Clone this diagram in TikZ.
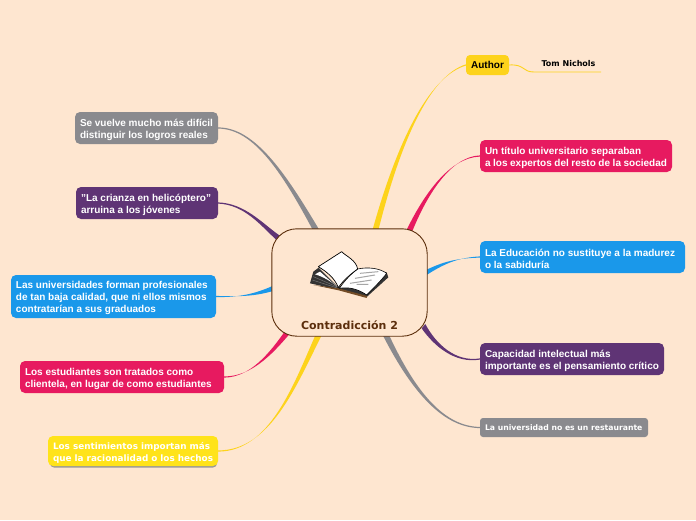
\documentclass[tikz,border=0pt]{standalone}
\usepackage{fontspec}
\usetikzlibrary{calc}
\setmainfont{Liberation Sans}
\newfontfamily\djv{DejaVu Sans}
\definecolor{bgc}{HTML}{FEE6D0}
\definecolor{pinkc}{HTML}{E71A60}
\definecolor{bluec}{HTML}{1A98EA}
\definecolor{purpc}{HTML}{5F3475}
\definecolor{grayc}{HTML}{8A8A8E}
\definecolor{yelc}{HTML}{FFE31A}
\definecolor{authc}{HTML}{FDD31C}
\definecolor{brownc}{HTML}{5C2E0C}
\newcommand{\nohy}{\hyphenpenalty=10000\relax}
\tikzset{
  basetopic/.style={rounded corners=5pt,inner sep=0pt,text=white,font=\nohy\fontsize{10}{12}\selectfont\bfseries,align=flush left,anchor=center},
  topic/.style={basetopic,execute at begin node={\rule{0pt}{10.5pt}}},
  smalltopic/.style={basetopic,font=\nohy\djv\fontsize{7.7}{12}\selectfont\bfseries},
  yeltopic/.style={basetopic,font=\nohy\djv\fontsize{8.85}{12}\selectfont\bfseries,execute at begin node={\rule{0pt}{10.5pt}}},
}
% \branch{colour}{thin end}{ctrl1}{ctrl2}{thick end}{half width x}{half width y}
\newcommand{\branch}[7]{%
  \fill[#1] ($(#2)+(0,-.6)$) .. controls ($(#3)+.1*(#6,#7)+(0,-.5)$) and ($(#4)+.5*(#6,#7)$) .. ($(#5)+(#6,#7)$) -- ($(#5)-(#6,#7)$) .. controls ($(#4)-.5*(#6,#7)$) and ($(#3)-.1*(#6,#7)+(0,.5)$) .. ($(#2)+(0,.6)$) -- cycle;}
\begin{document}
\begin{tikzpicture}[x=1pt,y=-1pt]
\useasboundingbox (0,0) rectangle (696,520);
\fill[bgc] (0,0) rectangle (696,520);

% root
\node[minimum width=155pt,minimum height=107pt,inner sep=0pt] (root) at (349.5,282.5) {};

% topics
\node[basetopic,fill=authc,text=black,minimum height=20pt,rounded corners=4pt,align=center,text width=43pt] (author) at (487.5,65) {Author};
\node[inner sep=0pt,font=\djv\fontsize{8}{10}\selectfont\bfseries,text=black] (tom) at (568.5,64) {Tom Nichols};
\coordinate (tomL) at (534,72);
\coordinate (tomR) at (601,72);

\node[topic,fill=pinkc,text width=182pt,inner xsep=5pt,minimum height=32pt] (pr) at (576,156) {Un título universitario separaban\\a los expertos del resto de la sociedad};
\node[topic,fill=bluec,text width=195pt,inner xsep=5pt,minimum height=32pt] (br) at (582.5,257) {La Educación no sustituye a la madurez\\o la sabiduría};
\node[topic,fill=purpc,text width=174pt,inner xsep=5pt,minimum height=32pt] (ur) at (572,359) {Capacidad intelectual más\\importante es el pensamiento crítico};
\node[smalltopic,fill=grayc,text width=158pt,inner xsep=5pt,minimum height=19pt,rounded corners=3pt] (gr) at (564,427.5) {La universidad no es un restaurante};

\node[topic,fill=grayc,text width=133pt,inner xsep=5pt,minimum height=32pt] (gl) at (146.5,128) {Se vuelve mucho más difícil\\distinguir los logros reales};
\node[topic,fill=purpc,text width=132pt,inner xsep=5pt,minimum height=32pt] (ul) at (147,203) {"La crianza en helicóptero"\\arruina a los jóvenes};
\node[topic,fill=bluec,text width=195pt,inner xsep=5pt,minimum height=43pt] (bl) at (113.5,296.5) {Las universidades forman profesionales\\de tan baja calidad, que ni ellos mismos\\contratarían a sus graduados};
\node[topic,fill=pinkc,text width=194pt,inner xsep=5pt,minimum height=32pt] (pl) at (122,377) {Los estudiantes son tratados como\\clientela, en lugar de como estudiantes};
\fill[black!40,rounded corners=4pt] (50,440) rectangle (217,467.5);
\node[yeltopic,fill=yelc,text width=160pt,inner xsep=5pt,minimum height=30pt] (yl) at (133,451) {Los sentimientos importan más\\que la racionalidad o los hechos};

% connector ends on the root
\path (root.north)+(26,1) coordinate (t1);
\path (root.north)+(59,4) coordinate (t2);
\path (root.east)+(-1,-10) coordinate (t3);
\path (root.south)+(74,-10) coordinate (t4);
\path (root.south)+(36,-2) coordinate (t5);
\path (root.north)+(-33,2) coordinate (t6);
\path (root.west)+(6,-45) coordinate (t7);
\path (root.west)+(1,6) coordinate (t8);
\path (root.south)+(-62,-4) coordinate (t9);
\path (root.south)+(-31,-1) coordinate (t10);

\branch{authc}{author.west}{433,75}{402,130}{t1}{2.8}{0.6}
\branch{pinkc}{pr.west}{450,157}{425,195}{t2}{2.6}{1.4}
\branch{bluec}{br.west}{458,258}{445,262}{t3}{0.8}{2.2}
\branch{purpc}{ur.west}{455,363}{435,345}{t4}{1.8}{-2.2}
\branch{grayc}{gr.west}{445,427}{415,395}{t5}{2.6}{-1.2}
\branch{grayc}{gl.east}{255,128}{285,175}{t6}{2.6}{-1.2}
\branch{purpc}{ul.east}{245,204}{262,225}{t7}{1.8}{-2.0}
\branch{bluec}{bl.east}{240,297}{255,295}{t8}{0.5}{2.4}
\branch{pinkc}{pl.east}{250,377}{270,355}{t9}{2.0}{1.8}
\branch{authc}{yl.east}{270,451}{295,385}{t10}{2.6}{1.2}
\draw[authc,line width=.9pt] (author.east) .. controls (525,64) and (522,72) .. (tomL) -- (tomR);

\draw[brownc,line width=.9pt,fill=bgc,rounded corners=25pt] (root.north west) rectangle (root.south east);
\node[inner sep=0pt,text=brownc,font=\djv\fontsize{11}{12}\selectfont\bfseries] (title) at (349.5,325) {Contradicción 2};

% book
\begin{scope}[shift={(260,215)},x=.3333pt,y=-.3333pt,line join=round]
\fill[black!80] (150,205) -- (160,170) -- (176,158) -- (236,218) -- (293,165) -- (380,172) -- (385,187) -- (320,246) -- (236,224) -- cycle;
\fill[brown!60!black] (160,210) -- (236,226) -- (320,249) -- (322,243) -- (236,220) -- cycle;
\draw[black!55,line width=.5pt] (160,185) -- (230,215) (157,195) -- (232,219);
\fill[white] (165,178) .. controls (190,185) and (215,200) .. (232,216) -- (180,170) -- cycle;
\draw[black,fill=white,line width=.6pt] (238,220) .. controls (255,195) and (275,175) .. (293,162) .. controls (325,155) and (360,160) .. (380,175) .. controls (365,195) and (340,220) .. (320,240) .. controls (295,222) and (265,215) .. (238,220) -- cycle;
\draw[black!35,line width=1pt] (300,175) -- (355,170) (285,190) -- (345,180) (270,205) -- (335,195) (290,208) -- (325,208);
\draw[black,fill=white,line width=.7pt] (175,155) -- (245,110) .. controls (260,125) and (288,135) .. (293,162) .. controls (275,175) and (250,195) .. (235,218) .. controls (225,190) and (200,170) .. (175,155) -- cycle;
\end{scope}
\end{tikzpicture}
\end{document}
